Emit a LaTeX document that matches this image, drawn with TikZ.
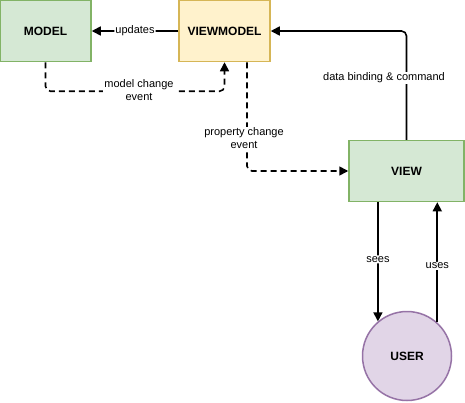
\documentclass[tikz,border=0pt]{standalone}
\usepackage{fontspec}
\setmainfont{Liberation Sans}
\usetikzlibrary{arrows.meta}

\definecolor{greenfill}{HTML}{D5E8D4}
\definecolor{greenline}{HTML}{82B366}
\definecolor{yellowfill}{HTML}{FFF2CC}
\definecolor{yellowline}{HTML}{D6B656}
\definecolor{purplefill}{HTML}{E1D5E7}
\definecolor{purpleline}{HTML}{9673A6}

\tikzset{
    box/.style = {draw, line width=1.5pt, font=\fontsize{12}{14}\selectfont\bfseries},
    greenbox/.style = {box, fill=greenfill, draw=greenline},
    yellowbox/.style = {box, fill=yellowfill, draw=yellowline},
    link/.style = {line width=1.6pt, -{Triangle[length=9pt,width=9pt]}, rounded corners=5pt},
    event/.style = {link, dash pattern=on 6pt off 4pt},
    lbl/.style = {fill=white, inner sep=1pt, align=center, font=\fontsize{11}{13}\selectfont},
}

\begin{document}
\begin{tikzpicture}[x=1pt, y=-1pt]
\useasboundingbox (0,0) rectangle (465,402);

    \node[greenbox, minimum width=91pt, minimum height=61pt] (model) at (45.5,31) {MODEL};
    \node[yellowbox, minimum width=91pt, minimum height=61pt] (vm) at (224.5,31) {VIEWMODEL};
    \node[greenbox, minimum width=115pt, minimum height=61pt] (view) at (406.5,171) {VIEW};
    \node[box, circle, fill=purplefill, draw=purpleline, minimum size=89pt, inner sep=0pt] (user) at (407,356) {USER};

    \draw[link] (vm) -- node[lbl] {updates} (model);
    \draw[event] (model.south) -- ++(0,29) -| (vm.south);
    \node[lbl] at (139,90) {model change\\event};
    \draw[event] (vm.south) ++(22.5,0) |- (view.west);
    \node[lbl] at (244,138.5) {property change\\event};
    \draw[link] (view.north) |- (vm.east);
    \node[lbl] at (384,78) {data binding \& command};
    \draw[link] (user.130 |- view.south) -- node[lbl, pos=0.48] {sees} (user.130);
    \draw[link] (user.48) -- node[lbl, pos=0.47] {uses} (user.48 |- view.south);

\end{tikzpicture}
\end{document}
